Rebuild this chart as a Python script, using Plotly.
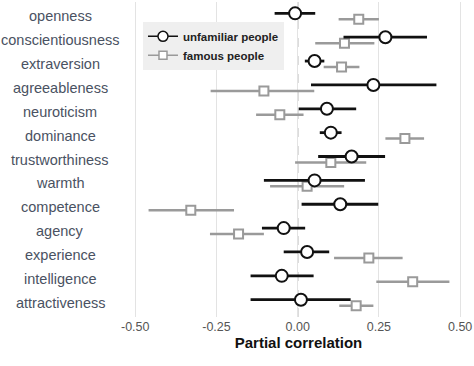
import plotly.graph_objects as go

categories = ["openness", "conscientiousness", "extraversion", "agreeableness",
              "neuroticism", "dominance", "trustworthiness", "warmth", "competence",
              "agency", "experience", "intelligence", "attractiveness"]

unf_est = [-0.008, 0.270, 0.052, 0.233, 0.090, 0.102, 0.166, 0.052, 0.131, -0.043, 0.029, -0.049, 0.010]
unf_lo  = [-0.071, 0.141, 0.022, 0.041, 0.003, 0.068, 0.063, -0.104, 0.012, -0.110, -0.043, -0.145, -0.145]
unf_hi  = [0.054, 0.398, 0.082, 0.427, 0.180, 0.135, 0.269, 0.207, 0.248, 0.023, 0.097, 0.049, 0.163]

fam_est = [0.188, 0.144, 0.135, -0.104, -0.055, 0.330, 0.102, 0.029, -0.329, -0.182, 0.219, 0.354, 0.180]
fam_lo  = [0.126, 0.054, 0.080, -0.268, -0.128, 0.270, -0.008, -0.085, -0.459, -0.270, 0.112, 0.242, 0.128]
fam_hi  = [0.250, 0.236, 0.190, 0.051, 0.018, 0.389, 0.211, 0.143, -0.196, -0.104, 0.323, 0.467, 0.233]

x_ticks = [-0.50, -0.25, 0.00, 0.25, 0.50]
x_tick_labels = ["-0.50", "-0.25", "0.00", "0.25", "0.50"]

BLACK = "#111111"
GRAY = "#9a9a9a"
LABEL = "#4a5262"
off = 0.125

idx = list(range(len(categories)))
fig = go.Figure()

fig.add_trace(go.Scatter(
    x=fam_est, y=[i + off for i in idx], mode="markers",
    marker=dict(symbol="square", size=9, color="white", line=dict(color=GRAY, width=2)),
    error_x=dict(type="data", symmetric=False,
                 array=[h - e for h, e in zip(fam_hi, fam_est)],
                 arrayminus=[e - l for e, l in zip(fam_est, fam_lo)],
                 color=GRAY, thickness=2.5, width=0),
    showlegend=False, hoverinfo="skip"))

fig.add_trace(go.Scatter(
    x=unf_est, y=[i - off for i in idx], mode="markers",
    marker=dict(symbol="circle", size=12, color="white", line=dict(color=BLACK, width=2)),
    error_x=dict(type="data", symmetric=False,
                 array=[h - e for h, e in zip(unf_hi, unf_est)],
                 arrayminus=[e - l for e, l in zip(unf_est, unf_lo)],
                 color=BLACK, thickness=2.8, width=0),
    showlegend=False, hoverinfo="skip"))

# legend entries
fig.add_trace(go.Scatter(x=[None], y=[None], mode="lines+markers", name="unfamiliar people",
                         line=dict(color=BLACK, width=1.5),
                         marker=dict(symbol="circle", size=10, color="white", line=dict(color=BLACK, width=1.5))))
fig.add_trace(go.Scatter(x=[None], y=[None], mode="lines+markers", name="famous people",
                         line=dict(color=GRAY, width=1.5),
                         marker=dict(symbol="square", size=8, color="white", line=dict(color=GRAY, width=1.5))))

fig.add_shape(type="line", xref="x", yref="paper", x0=0, x1=0, y0=0, y1=1,
              line=dict(color="#444444", width=1, dash="dash"), layer="below")

for i, c in enumerate(categories):
    fig.add_annotation(x=-0.216, xref="paper", y=i, yref="y", text=c, showarrow=False,
                       xanchor="center", yanchor="middle",
                       font=dict(family="Liberation Sans, Arial, sans-serif", size=14.5, color=LABEL))

fig.update_layout(
    width=474, height=366,
    margin=dict(l=132, r=9, t=2, b=49, autoexpand=False),
    paper_bgcolor="white", plot_bgcolor="white",
    font=dict(family="Liberation Sans, Arial, sans-serif"),
    legend=dict(x=0.033, y=0.937, xanchor="left", yanchor="top",
                bgcolor="#efefef", font=dict(size=11.5, color="#222222", weight="bold"),
                itemwidth=30, tracegroupgap=0),
    xaxis=dict(range=[-0.51, 0.515], tickvals=x_ticks, ticktext=x_tick_labels, automargin=False,
               showgrid=True, gridcolor="#e3e3e3", gridwidth=1, zeroline=False,
               showline=False, ticks="", tickfont=dict(size=12.5, color="#555555"),
               title=dict(text="<b>Partial correlation</b>", font=dict(size=15, color="#111111"), standoff=4)),
    yaxis=dict(range=[12.6, -0.6], tickvals=idx, showticklabels=False, showgrid=False, automargin=False,
               zeroline=False, showline=False, ticks=""),
)

fig.write_html("out.html", config={"displayModeBar": False},
               post_script="document.body.style.margin='0';")
